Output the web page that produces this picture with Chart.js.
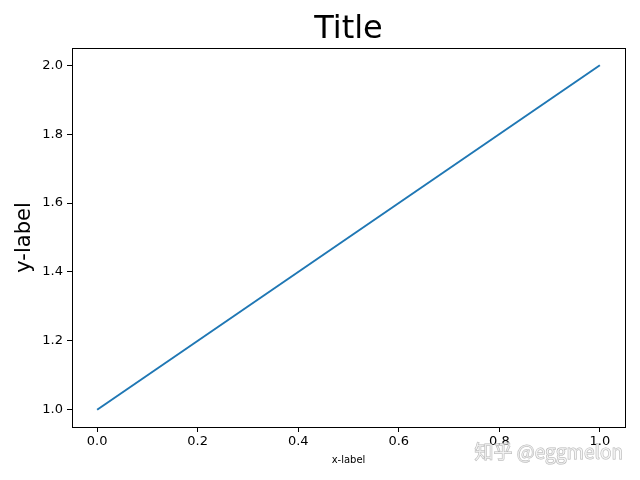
<!DOCTYPE html>
<html>
<head>
<meta charset="UTF-8">
<title>Title</title>
<script src="https://cdn.jsdelivr.net/npm/chart.js"></script>
<style>
  body { margin: 0; background: #fff; }
  #wrap { width: 640px; height: 480px; }
</style>
</head>
<body>
<div id="wrap"><canvas id="chart"></canvas></div>
<script>
const xValues = [0, 1];
const yValues = [1, 2];
const xTicks = [0.0, 0.2, 0.4, 0.6, 0.8, 1.0];
const yTicks = [1.0, 1.2, 1.4, 1.6, 1.8, 2.0];

const font = "'DejaVu Sans', sans-serif";

// box around the plot area, title centred over the axes, watermark
const frame = {
  id: 'frame',
  afterDraw(chart) {
    const a = chart.chartArea, c = chart.ctx;
    c.save();
    c.strokeStyle = '#000';
    c.lineWidth = 1;
    c.strokeRect(a.left + 0.5, a.top + 0.5, a.right - a.left, a.bottom - a.top);

    c.fillStyle = '#000';
    c.font = "32px 'DejaVu Sans', sans-serif";
    c.textAlign = 'center';
    c.textBaseline = 'middle';
    c.fillText('Title', (a.left + a.right) / 2, 30);

    c.font = "19px 'Noto Sans CJK SC', 'DejaVu Sans', sans-serif";
    c.textAlign = 'right';
    c.fillStyle = 'rgba(255,255,255,0.6)';
    c.strokeStyle = 'rgba(150,150,150,0.7)';
    c.lineWidth = 1;
    c.strokeText('知乎 @eggmelon', 623, 452);
    c.fillText('知乎 @eggmelon', 623, 452);
    c.restore();
  }
};

new Chart(document.getElementById('chart'), {
  type: 'line',
  data: {
    datasets: [{
      data: xValues.map((x, i) => ({ x: x, y: yValues[i] })),
      borderColor: '#1f77b4',
      borderWidth: 2,
      pointRadius: 0,
      tension: 0
    }]
  },
  options: {
    responsive: true,
    maintainAspectRatio: false,
    animation: false,
    layout: { padding: { left: 12, right: 15, top: 48, bottom: 14 } },
    plugins: {
      legend: { display: false },
      tooltip: { enabled: false },
      title: { display: false }
    },
    scales: {
      x: {
        type: 'linear',
        min: -0.05,
        max: 1.05,
        afterBuildTicks: s => { s.ticks = xTicks.map(v => ({ value: v })); },
        afterFit: s => { s.height = 39; },
        border: { display: false },
        grid: { drawOnChartArea: false, tickLength: 5, tickColor: '#000' },
        ticks: {
          color: '#000',
          font: { family: font, size: 13 },
          padding: 2,
          maxRotation: 0,
          callback: v => v.toFixed(1)
        },
        title: {
          display: true,
          text: 'x-label',
          color: '#000',
          font: { family: font, size: 10 },
          padding: { top: 2, bottom: 0 }
        }
      },
      y: {
        type: 'linear',
        min: 0.95,
        max: 2.05,
        afterBuildTicks: s => { s.ticks = yTicks.map(v => ({ value: v })); },
        afterFit: s => { s.width = 60; },
        border: { display: false },
        grid: { drawOnChartArea: false, tickLength: 5, tickColor: '#000' },
        ticks: {
          color: '#000',
          font: { family: font, size: 13 },
          padding: 4,
          callback: v => v.toFixed(1)
        },
        title: {
          display: true,
          text: 'y-label',
          color: '#000',
          font: { family: font, size: 21 },
          padding: { top: 0, bottom: 0 }
        }
      }
    }
  },
  plugins: [frame]
});
</script>
</body>
</html>
